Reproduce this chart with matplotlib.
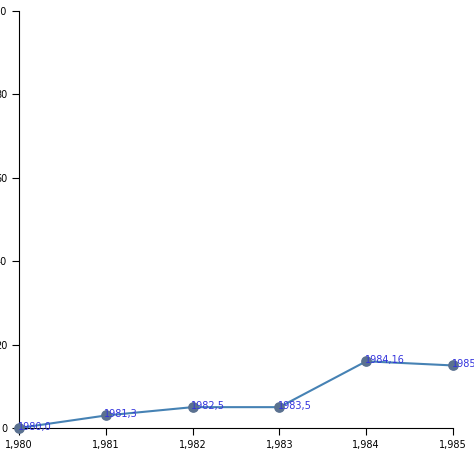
import matplotlib
matplotlib.use("Agg")
import matplotlib.pyplot as plt

years = [1980, 1981, 1982, 1983, 1984, 1985]
values = [0, 3, 5, 5, 16, 15]
xticks = [1980, 1981, 1982, 1983, 1984, 1985]
xtick_labels = ["1,980", "1,981", "1,982", "1,983", "1,984", "1,985"]
yticks = [0, 20, 40, 60, 80, 100]

fig = plt.figure(figsize=(4.74, 4.54), dpi=100)
ax = fig.add_axes([19/474, 1-428/454, (453-19)/474, (428-11)/454])
ax.plot(years, values, color="#4682b4", lw=1.5, clip_on=False)
ax.scatter(years, values, s=45, color="#5a7190", zorder=3, clip_on=False)
for x, y in zip(years, values):
    ax.annotate(f"{x},{y}", (x, y), xytext=(-1, 1), textcoords="offset points",
                color="#3333dd", fontsize=7, va="center", ha="left", annotation_clip=False)
ax.set_xlim(1980, 1985)
ax.set_ylim(0, 100)
ax.set_xticks(xticks)
ax.set_xticklabels(xtick_labels)
ax.set_yticks(yticks)
ax.tick_params(labelsize=7, length=5)
for s in ["top", "right"]:
    ax.spines[s].set_visible(False)
fig.savefig("out.png", dpi=100)
